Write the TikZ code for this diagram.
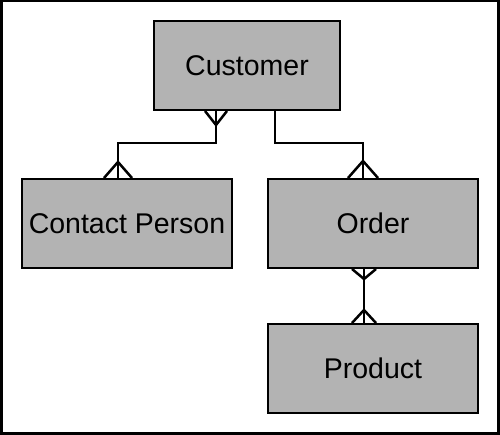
\documentclass[tikz,border=0pt]{standalone}
\usepackage{fontspec}
\setmainfont{Liberation Sans}
\usetikzlibrary{calc}
\definecolor{boxgray}{HTML}{B3B3B3}
\begin{document}
\begin{tikzpicture}[x=1pt,y=-1pt,
  entity/.style={draw=black,line width=2pt,fill=boxgray,minimum width=#1,minimum height=89pt,inner sep=0pt,font=\fontsize{28.5}{34}\selectfont},
  conn/.style={draw=black,line width=2.5pt,line join=miter}]
\useasboundingbox (0,0) rectangle (500,435);
\draw[line width=2.5pt] (1.25,1.25) rectangle (498.5,433.5);
\node[entity=186pt] (cust) at (247,65.5) {Customer};
\node[entity=210pt] (cp) at (127,223.5) {Contact Person};
\node[entity=210pt] (ord) at (373,223.5) {Order};
\node[entity=210pt] (prod) at (373,368.5) {Product};
% anchor points
\coordinate (a1) at ($(cust.south west)+(63,0)$);
\coordinate (a2) at ($(cp.north west)+(97,0)$);
\coordinate (b1) at ($(cust.south west)+(122,0)$);
\coordinate (b2) at ($(ord.north west)+(96,0)$);
\coordinate (d1) at ($(ord.south west)+(97,0)$);
\coordinate (d2) at ($(prod.north west)+(97,0)$);
% Customer - Contact Person
\draw[conn] (a1) -- ++(0,32) -| (a2);
\draw[conn] ($(a1)+(-11,0)$) -- ($(a1)+(0,14)$) -- ($(a1)+(11,0)$);
\draw[conn] ($(a2)+(-14,0)$) -- ($(a2)+(0,-16)$) -- ($(a2)+(14,0)$);
% Customer - Order
\draw[conn] (b1) -- ++(0,32) -| (b2);
\draw[conn] ($(b2)+(-15,0)$) -- ($(b2)+(0,-17)$) -- ($(b2)+(15,0)$);
% Order - Product
\draw[conn] (d1) -- (d2);
\draw[conn] ($(d1)+(-12,0)$) -- ($(d1)+(0,10)$) -- ($(d1)+(12,0)$);
\draw[conn] ($(d2)+(-12,0)$) -- ($(d2)+(0,-13)$) -- ($(d2)+(12,0)$);
\end{tikzpicture}
\end{document}
